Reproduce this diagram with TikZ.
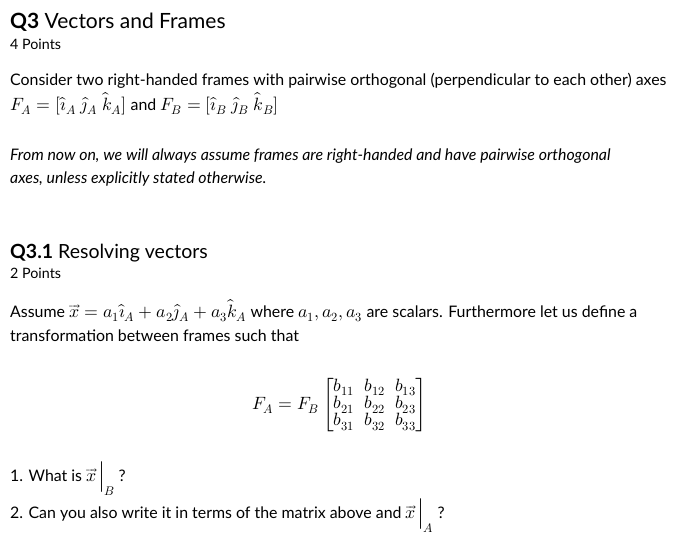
\documentclass[tikz,border=0pt]{standalone}
\usepackage{amsmath}
\usepackage{unicode-math}
\setmainfont{Lato}
\setmathfont{Latin Modern Math}[Scale=1.12]
\newcommand{\evb}[2]{\overrightarrow{#1}\,\Big|_{#2}}
\begin{document}
\begin{tikzpicture}[x=1pt,y=-1pt,
  txt/.style={anchor=base west,inner sep=0pt,font=\fontsize{15.9}{18}\selectfont},
  ttl/.style={anchor=base west,inner sep=0pt,font=\fontsize{21}{25}\selectfont},
  pts/.style={anchor=base west,inner sep=0pt,font=\fontsize{14.3}{17}\selectfont}]
\useasboundingbox (0,0) rectangle (695,539);
\node[ttl] (t1) at (10,28) {\textbf{Q3} Vectors and Frames};
\node[pts] (p1) at (10,49) {4 Points};
\node[txt] (l1) at (10,85) {Consider two right-handed frames with pairwise orthogonal (perpendicular to each other) axes};
\node[txt] (l2) at (10,110) {$F_A=[\hat\imath_A\;\hat\jmath_A\;\hat k_A]$ and $F_B=[\hat\imath_B\;\hat\jmath_B\;\hat k_B]$};
\node[txt] (l3) at (10,160) {\itshape From now on, we will always assume frames are right-handed and have pairwise orthogonal};
\node[txt] (l4) at (10,183) {\itshape axes, unless explicitly stated otherwise.};
\node[ttl,font=\fontsize{19.5}{23}\selectfont] (t2) at (10,258) {\textbf{Q3.1} Resolving vectors};
\node[pts] (p2) at (10,278) {2 Points};
\node[txt] (l5) at (10,317) {Assume $\overrightarrow{x}=a_1\hat\imath_A+a_2\hat\jmath_A+a_3\hat k_A$ where $a_1,a_2,a_3$ are scalars. Furthermore let us define a};
\node[txt] (l6) at (10,341) {transformation between frames such that};
\node[anchor=center,inner sep=0pt,font=\fontsize{15.9}{18}\selectfont] (m) at (340,405) {\renewcommand{\arraystretch}{0.9}$F_A=F_B\begin{bmatrix}b_{11}&b_{12}&b_{13}\\b_{21}&b_{22}&b_{23}\\b_{31}&b_{32}&b_{33}\end{bmatrix}$};
\node[txt] (q1) at (10,481) {1. What is $\evb{x}{B}$ ?};
\node[txt] (q2) at (10,518) {2. Can you also write it in terms of the matrix above and $\evb{x}{A}$ ?};
\end{tikzpicture}
\end{document}
